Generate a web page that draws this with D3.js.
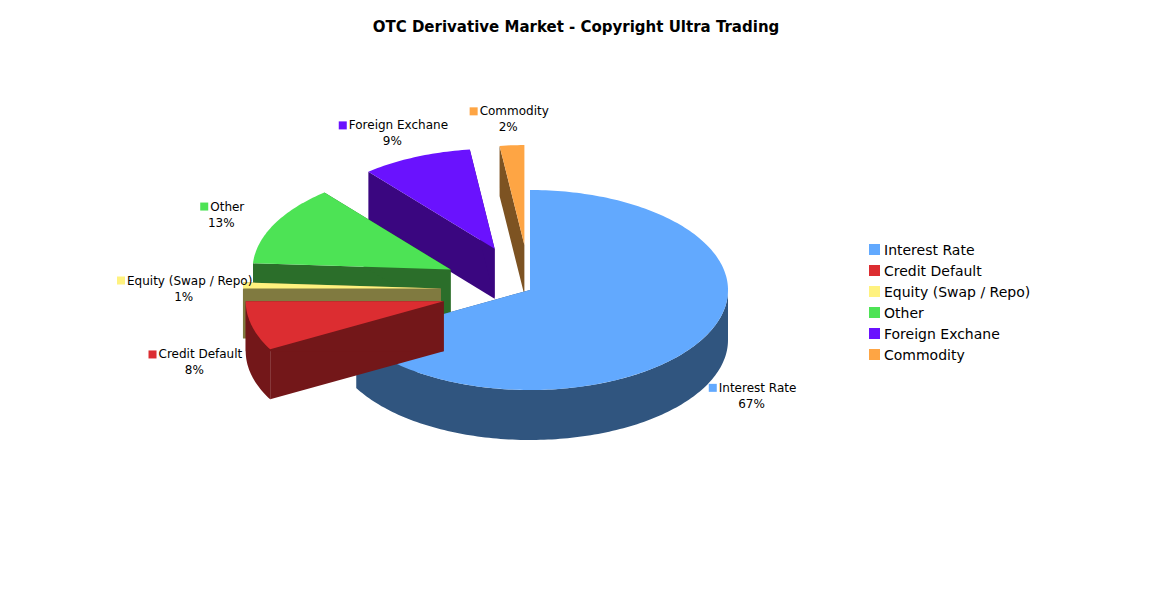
<!DOCTYPE html>
<html><head><meta charset="utf-8">
<script src="https://cdn.jsdelivr.net/npm/d3@7"></script>
<style>body{margin:0;background:#fff}text{font-family:"DejaVu Sans",Verdana,sans-serif}</style>
</head><body>
<script>
const categories = ['Interest Rate', 'Credit Default', 'Equity (Swap / Repo)', 'Other', 'Foreign Exchane', 'Commodity'];
const values = [67, 8, 1, 13, 9, 2];
const topColors = ['#62a9fe', '#dc2d31', '#fff27f', '#4de355', '#6a12fe', '#fea544'];
const sideColors = ['#30557f', '#731719', '#807a40', '#2b6e2a', '#3a0680', '#7d5322'];
const explode = [0, 0.45, 0.45, 0.45, 0.45, 0.45];

const W = 1152, H = 604;
const cx = 530, cy = 290, rx = 198, ry = 100, depth = 50;

const svg = d3.select('body').append('svg').attr('width', W).attr('height', H);

svg.append('text').attr('x', 576).attr('y', 32).attr('text-anchor', 'middle')
  .style('font-size', '15px').style('font-weight', 'bold').text('OTC Derivative Market - Copyright Ultra Trading');

const pie = d3.pie().sort(null).value(d => d)(values);
const topColor = d3.scaleOrdinal().domain(categories).range(topColors);
const sideColor = d3.scaleOrdinal().domain(categories).range(sideColors);

const slices = pie.map((p, i) => {
  const mid = (p.startAngle + p.endAngle) / 2;
  const ox = cx + Math.sin(mid) * rx * explode[i];
  const oy = cy - Math.cos(mid) * ry * explode[i];
  return { p, i, mid, ox, oy };
});

const pt = (s, a, dy = 0) => [s.ox + rx * Math.sin(a), s.oy - ry * Math.cos(a) + dy];

function arcPts(s, a0, a1, dy) {
  const n = Math.max(2, Math.ceil((a1 - a0) / 0.02));
  return d3.range(n + 1).map(k => pt(s, a0 + (a1 - a0) * k / n, dy));
}
const line = d3.line();

// back to front by offset centre
const order = slices.slice().sort((a, b) => a.oy - b.oy);

order.forEach(s => {
  const { p, i } = s;
  const g = svg.append('g');
  const name = categories[i];
  // radial faces
  [p.startAngle, p.endAngle].forEach(a => {
    const e = pt(s, a);
    g.append('path').attr('fill', sideColor(name))
      .attr('d', line([[s.ox, s.oy], e, [e[0], e[1] + depth], [s.ox, s.oy + depth]]) + 'Z');
  });
  // outer wall (front half only)
  const a0 = Math.max(p.startAngle, Math.PI / 2), a1 = Math.min(p.endAngle, 3 * Math.PI / 2);
  if (a1 > a0) {
    const up = arcPts(s, a0, a1, 0), down = arcPts(s, a0, a1, depth).reverse();
    g.append('path').attr('fill', sideColor(name)).attr('d', line(up.concat(down)) + 'Z');
  }
  // top face
  g.append('path').attr('fill', topColor(name))
    .attr('d', line([[s.ox, s.oy]].concat(arcPts(s, p.startAngle, p.endAngle, 0))) + 'Z');
});

// slice labels
slices.forEach(s => {
  const k = 1.3;
  const c = -Math.cos(s.mid);
  const x = s.ox + rx * k * Math.sin(s.mid);
  const y = s.oy + ry * k * c + depth * Math.sqrt(Math.max(0, c));
  const name = categories[s.i];
  const g = svg.append('g').attr('transform', `translate(${x},${y})`);
  const t = g.append('text').attr('text-anchor', 'middle').style('font-size', '12px').text(name);
  const w = t.node().getComputedTextLength();
  t.attr('x', 6);
  g.append('rect').attr('x', -w / 2 - 4).attr('y', -8).attr('width', 8).attr('height', 8).attr('fill', topColor(name));
  g.append('text').attr('text-anchor', 'middle').style('font-size', '12px').attr('y', 16).text(values[s.i] + '%');
});

// legend
const leg = svg.append('g').attr('transform', 'translate(869,244)');
categories.forEach((c, i) => {
  const r = leg.append('g').attr('transform', `translate(0,${i * 21})`);
  r.append('rect').attr('width', 11).attr('height', 11).attr('fill', topColor(c));
  r.append('text').attr('x', 15).attr('y', 11).style('font-size', '14px').text(c);
});
</script>
</body></html>
